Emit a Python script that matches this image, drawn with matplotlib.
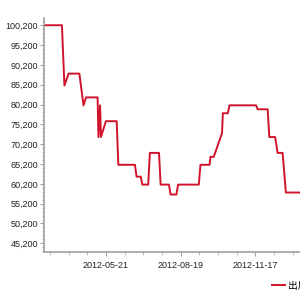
import datetime as dt
import matplotlib
matplotlib.use("Agg")
import matplotlib.pyplot as plt
import matplotlib.dates as mdates
import numpy as np

plt.rcParams['font.family'] = ['Liberation Sans', 'Noto Sans CJK SC']

# step line: (date, price)
dates = ["2012-03-08", "2012-03-29", "2012-03-30", "2012-04-01", "2012-04-06",
         "2012-04-19", "2012-04-24", "2012-04-27", "2012-05-11", "2012-05-12",
         "2012-05-14", "2012-05-15", "2012-05-21", "2012-06-03", "2012-06-05",
         "2012-06-25", "2012-06-27", "2012-07-02", "2012-07-04", "2012-07-11",
         "2012-07-13", "2012-07-24", "2012-07-26", "2012-08-05", "2012-08-07",
         "2012-08-14", "2012-08-16", "2012-09-10", "2012-09-12", "2012-09-23",
         "2012-09-24", "2012-09-28", "2012-10-08", "2012-10-09", "2012-10-15",
         "2012-10-17", "2012-11-18", "2012-11-20", "2012-12-02", "2012-12-04",
         "2012-12-11", "2012-12-14", "2012-12-20", "2012-12-24", "2013-01-15"]
prices = [100200, 100200, 95000, 85000, 88000,
          88000, 80000, 82000, 82000, 72000,
          80000, 72000, 76000, 76000, 65000,
          65000, 62000, 62000, 60000, 60000,
          68000, 68000, 60000, 60000, 57500,
          57500, 60000, 60000, 65000, 65000,
          67000, 67000, 73000, 78000, 78000,
          80000, 80000, 79000, 79000, 72000,
          72000, 68000, 68000, 58000, 58000]
series_name = "出厂价"
xticks = ["2012-05-21", "2012-08-19", "2012-11-17"]
yticks = np.arange(45200, 100201, 5000)

x = [dt.datetime.strptime(d, "%Y-%m-%d") for d in dates]

fig = plt.figure(figsize=(3, 3), dpi=100)
ax = fig.add_axes([0.147, 0.161, 0.853, 0.78])
ax.plot(x, prices, color='#d0142c', lw=1.4, label=series_name)

ax.set_xlim(dt.datetime(2012, 3, 7, 12), dt.datetime(2013, 1, 10))
ax.set_ylim(43080, 102100)

major = [dt.datetime.strptime(d, "%Y-%m-%d") for d in xticks]
ax.set_xticks(major)
ax.set_xticklabels(xticks)
base = mdates.date2num(major[0])
ax.set_xticks([base + k * 22.5 for k in range(-3, 11) if k % 4 != 0], minor=True)

ax.set_yticks(yticks)
ax.set_yticklabels([f"{v:,}" for v in yticks])
ax.set_yticks(np.arange(43200, 102100, 1000), minor=True)

for s in ['top', 'right']:
    ax.spines[s].set_visible(False)
for s in ['left', 'bottom']:
    ax.spines[s].set_color('#a0a0a0')
    ax.spines[s].set_linewidth(1.2)
ax.tick_params(which='major', length=3, width=0.8, color='#a0a0a0',
               labelsize=6.5, labelcolor='#222222', pad=1.5)
ax.tick_params(which='minor', length=1.8, width=0.6, color='#b0b0b0')
ax.tick_params(axis='x', which='major', pad=4)

# legend sits at the bottom right corner, partly past the edge as in the original
fig.legend(loc='lower left', bbox_to_anchor=(0.89, 0.015), frameon=False,
           fontsize=7, handlelength=1.3, handletextpad=0.4, borderpad=0)

fig.savefig("out.png", dpi=100)
